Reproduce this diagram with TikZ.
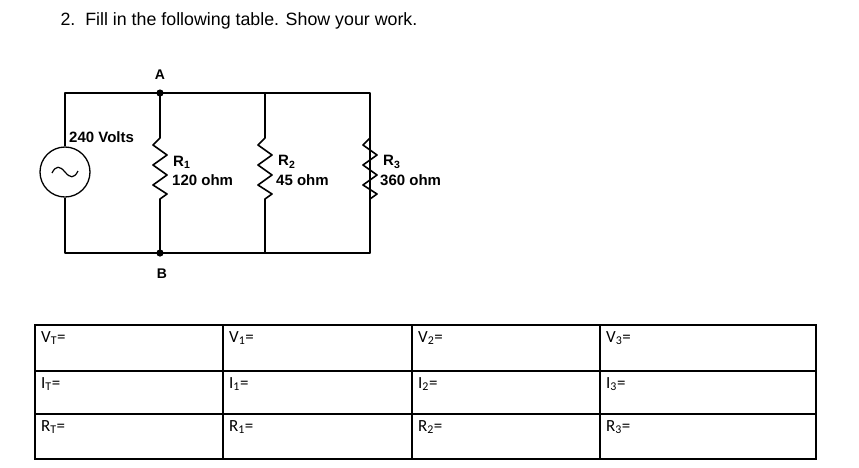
\documentclass[tikz,border=0pt]{standalone}
\usepackage{fontspec}
\setmainfont{Liberation Sans}
\newfontfamily\myCarl{Carlito}
\begin{document}
\begin{tikzpicture}[x=1pt,y=-1pt,
  wire/.style={line width=1.6pt,line join=round},
  lbl/.style={font=\fontsize{15}{15}\selectfont\bfseries,inner sep=0pt,anchor=west},
  cell/.style={font=\myCarl\fontsize{17}{18}\selectfont,inner sep=0pt,anchor=west},
  tab/.style={line width=1.2pt}]
\useasboundingbox (0,0) rectangle (859,467);
\node[anchor=west,font=\fontsize{17.8}{18}\selectfont] (title) at (57,21) {2.\ \ Fill in the following table. Show your work.};
% circuit
\coordinate (tl) at (65,93); \coordinate (bl) at (65,253);
\coordinate (A) at (160,93); \coordinate (B) at (160,253);
\coordinate (t2) at (265,93); \coordinate (b2) at (265,253);
\coordinate (t3) at (370,93); \coordinate (b3) at (370,253);
\node[circle,draw,line width=1.3pt,minimum size=50pt,inner sep=0pt] (src) at (65,172) {};
\draw[line width=1.2pt] (52,173) .. controls (56,165) and (60,166) .. (65,172) .. controls (70,178) and (74,179) .. (78,171);
\draw[wire] (src.north) -- (tl) -- (t3) -- (b3) -- (bl) -- (src.south);
\foreach \x/\t/\b in {160/A/B,265/t2/b2,370/t3/b3}{
  \draw[wire] (\t) -- (\x,138) -- (\x-7,145) -- (\x+7,155) -- (\x-7,165) -- (\x+7,175) -- (\x-7,185) -- (\x+7,194) -- (\x,199) -- (\b);
}
\fill (A) circle (3.6pt) (B) circle (3.6pt);
\node[font=\fontsize{14}{14}\selectfont\bfseries] (la) at (160,75) {A};
\node[font=\fontsize{14}{14}\selectfont\bfseries] (lb) at (162,274) {B};
\node[lbl] (v) at (69,137) {240 Volts};
\node[lbl] (r1) at (173,162) {R\textsubscript{1}};
\node[lbl] (o1) at (172,180) {120 ohm};
\node[lbl] (r2) at (278,162) {R\textsubscript{2}};
\node[lbl] (o2) at (276,180) {45 ohm};
\node[lbl] (r3) at (383,162) {R\textsubscript{3}};
\node[lbl] (o3) at (380,180) {360 ohm};
% table
\draw[tab] (35,325) rectangle (816,459);
\draw[tab] (35,371) -- (816,371) (35,414) -- (816,414);
\draw[tab] (223,325) -- (223,459) (412,325) -- (412,459) (600,325) -- (600,459);
\foreach \x/\s in {41/T,229/1,418/2,606/3}{
  \node[cell] at (\x,338) {V\textsubscript{\s}=};
  \node[cell] at (\x,384) {I\textsubscript{\s}=};
  \node[cell] at (\x,427) {R\textsubscript{\s}=};
}
\end{tikzpicture}
\end{document}
